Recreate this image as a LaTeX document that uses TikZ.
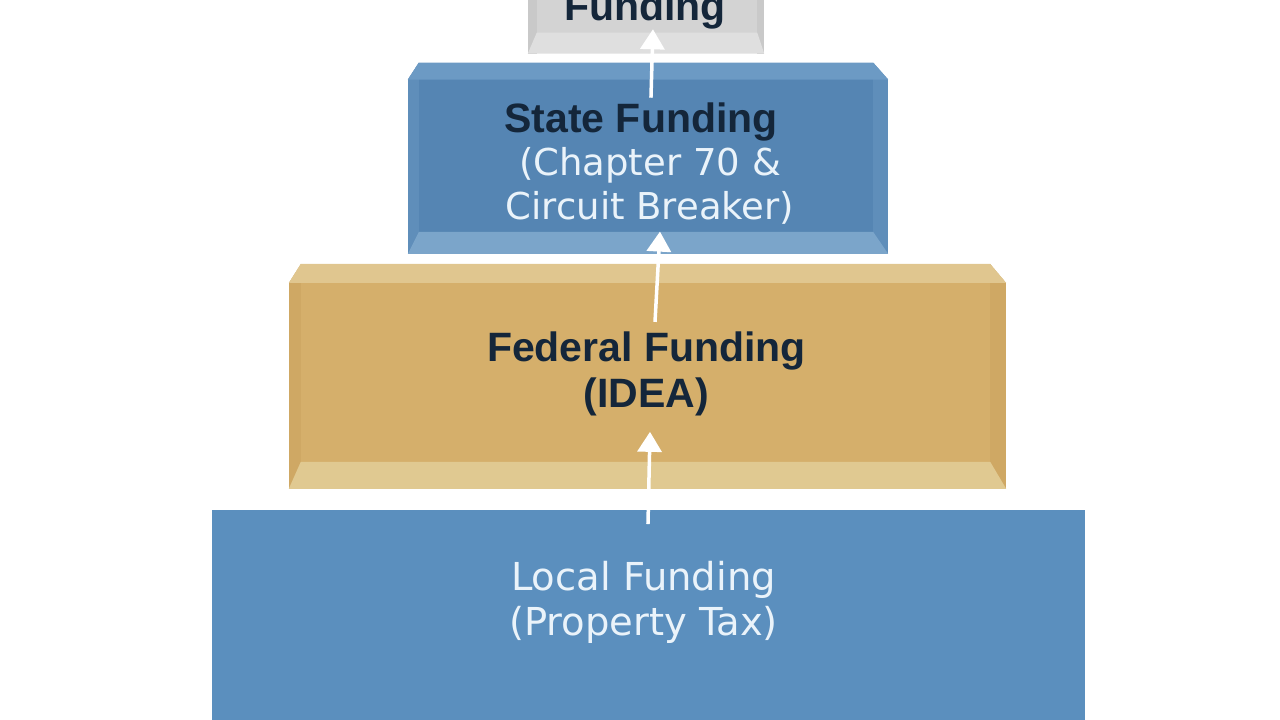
\documentclass[tikz,border=0pt]{standalone}
\usepackage{fontspec}
\setmainfont{DejaVu Sans}
\newfontfamily\titlefont{Liberation Sans}[BoldFont={Liberation Sans Bold}]
\usetikzlibrary{arrows.meta,calc,positioning}

\definecolor{localblue}{HTML}{5B8FBE}
\definecolor{stateblue}{HTML}{5585B3}
\definecolor{statetop}{HTML}{6C9AC4}
\definecolor{statelow}{HTML}{7BA5CA}
\definecolor{stateside}{HTML}{5F8EBA}
\definecolor{fedgold}{HTML}{D5AF6B}
\definecolor{fedtop}{HTML}{E0C68F}
\definecolor{fedlow}{HTML}{E0C991}
\definecolor{fedside}{HTML}{CFA864}
\definecolor{topgrey}{HTML}{D3D3D3}
\definecolor{topgreylow}{HTML}{DFDFDF}
\definecolor{topgreyside}{HTML}{C9C9C9}
\definecolor{darkink}{HTML}{14263A}
\definecolor{lightink}{HTML}{EAF3FA}

\tikzset{
  tier/.style={rectangle,inner sep=0pt},
  caption/.style={align=center,text=lightink,font=\fontsize{38.5}{45.5}\selectfont},
  title/.style={align=center,text=darkink,font=\titlefont\fontsize{41}{46}\selectfont\bfseries},
  flow/.style={draw=white,line width=3.5pt,-{Triangle[width=24pt,length=20pt]}}
}

\begin{document}
\begin{tikzpicture}[x=1pt,y=-1pt]

    \useasboundingbox (0,0) rectangle (1280,720);
    \clip (0,0) rectangle (1280,720);

    \node[tier,fill=localblue,minimum width=873pt,minimum height=210pt] (local) at (648.5,615) {};
    \node[tier,fill=fedgold,minimum width=717pt,minimum height=224.5pt,xshift=-1pt] (federal) [above=21pt of local] {};
    \node[tier,fill=stateblue,minimum width=480pt,minimum height=191pt,xshift=0.5pt] (state) [above=10pt of federal] {};
    \node[tier,fill=topgrey,minimum width=236pt,minimum height=120pt,xshift=-2pt] (grants) [above=9pt of state] {};

    % bevels: tier / top / low / side / top depth / low depth / left inset / right inset
    \foreach \tname/\ctop/\clow/\cside/\dtop/\dlow/\il/\ir in {
        federal/fedtop/fedlow/fedside/19/27/12/16,
        state/statetop/statelow/stateside/17/22/11/15,
        grants/topgrey/topgreylow/topgreyside/10/21/9/7} {
      \fill[\cside] (\tname.north west) rectangle ($(\tname.south west)+(\il,0)$);
      \fill[\cside] (\tname.north east) rectangle ($(\tname.south east)+(-\ir,0)$);
      \fill[white] ($(\tname.north west)+(-1,-1)$) -- ($(\tname.north west)+(\il,-1)$) -- ($(\tname.north west)+(\il,0)$)
          -- ($(\tname.north west)+(0,\dtop)$) -- ($(\tname.north west)+(-1,\dtop)$) -- cycle;
      \fill[white] ($(\tname.north east)+(1,-1)$) -- ($(\tname.north east)+(-\ir,-1)$) -- ($(\tname.north east)+(-\ir,0)$)
          -- ($(\tname.north east)+(0,\dtop)$) -- ($(\tname.north east)+(1,\dtop)$) -- cycle;
      \fill[\ctop] ($(\tname.north west)+(0,\dtop)$) -- ($(\tname.north east)+(0,\dtop)$)
          -- ($(\tname.north east)+(-\ir,0)$) -- ($(\tname.north west)+(\il,0)$) -- cycle;
      \fill[\clow] (\tname.south west) -- ($(\tname.south west)+(\il,-\dlow)$)
          -- ($(\tname.south east)+(-\ir,-\dlow)$) -- (\tname.south east) -- cycle;
    }

    \node[caption] (localtext) at ($(local.center)+(-5,-12.5)$) {Local Funding\\(Property Tax)};
    \node[title] (fedtext) at ($(federal.center)+(-1,-2)$) {Federal Funding\\(IDEA)};
    \node[title] (statetitle) at ($(state.center)+(-7,-36)$) {State Funding};
    \node[caption,font=\fontsize{37}{44}\selectfont] (statetext) [below=-1pt of statetitle,xshift=9pt] {(Chapter 70 \&\\Circuit Breaker)};
    \node[title] (grantstext) at (645,10) {Funding};

    \draw[flow,shorten <=91pt,shorten >=55.5pt] ([xshift=-2.5pt]local.center) -- ([xshift=3.7pt]federal.center);
    \draw[flow,shorten <=54.5pt,shorten >=73.5pt] ([xshift=4.5pt]federal.center) -- ([xshift=16pt]state.center);
    \draw[flow,shorten <=60.5pt,shorten >=36pt] ([xshift=1.2pt]state.center) -- ([xshift=8pt]grants.center);

\end{tikzpicture}
\end{document}
